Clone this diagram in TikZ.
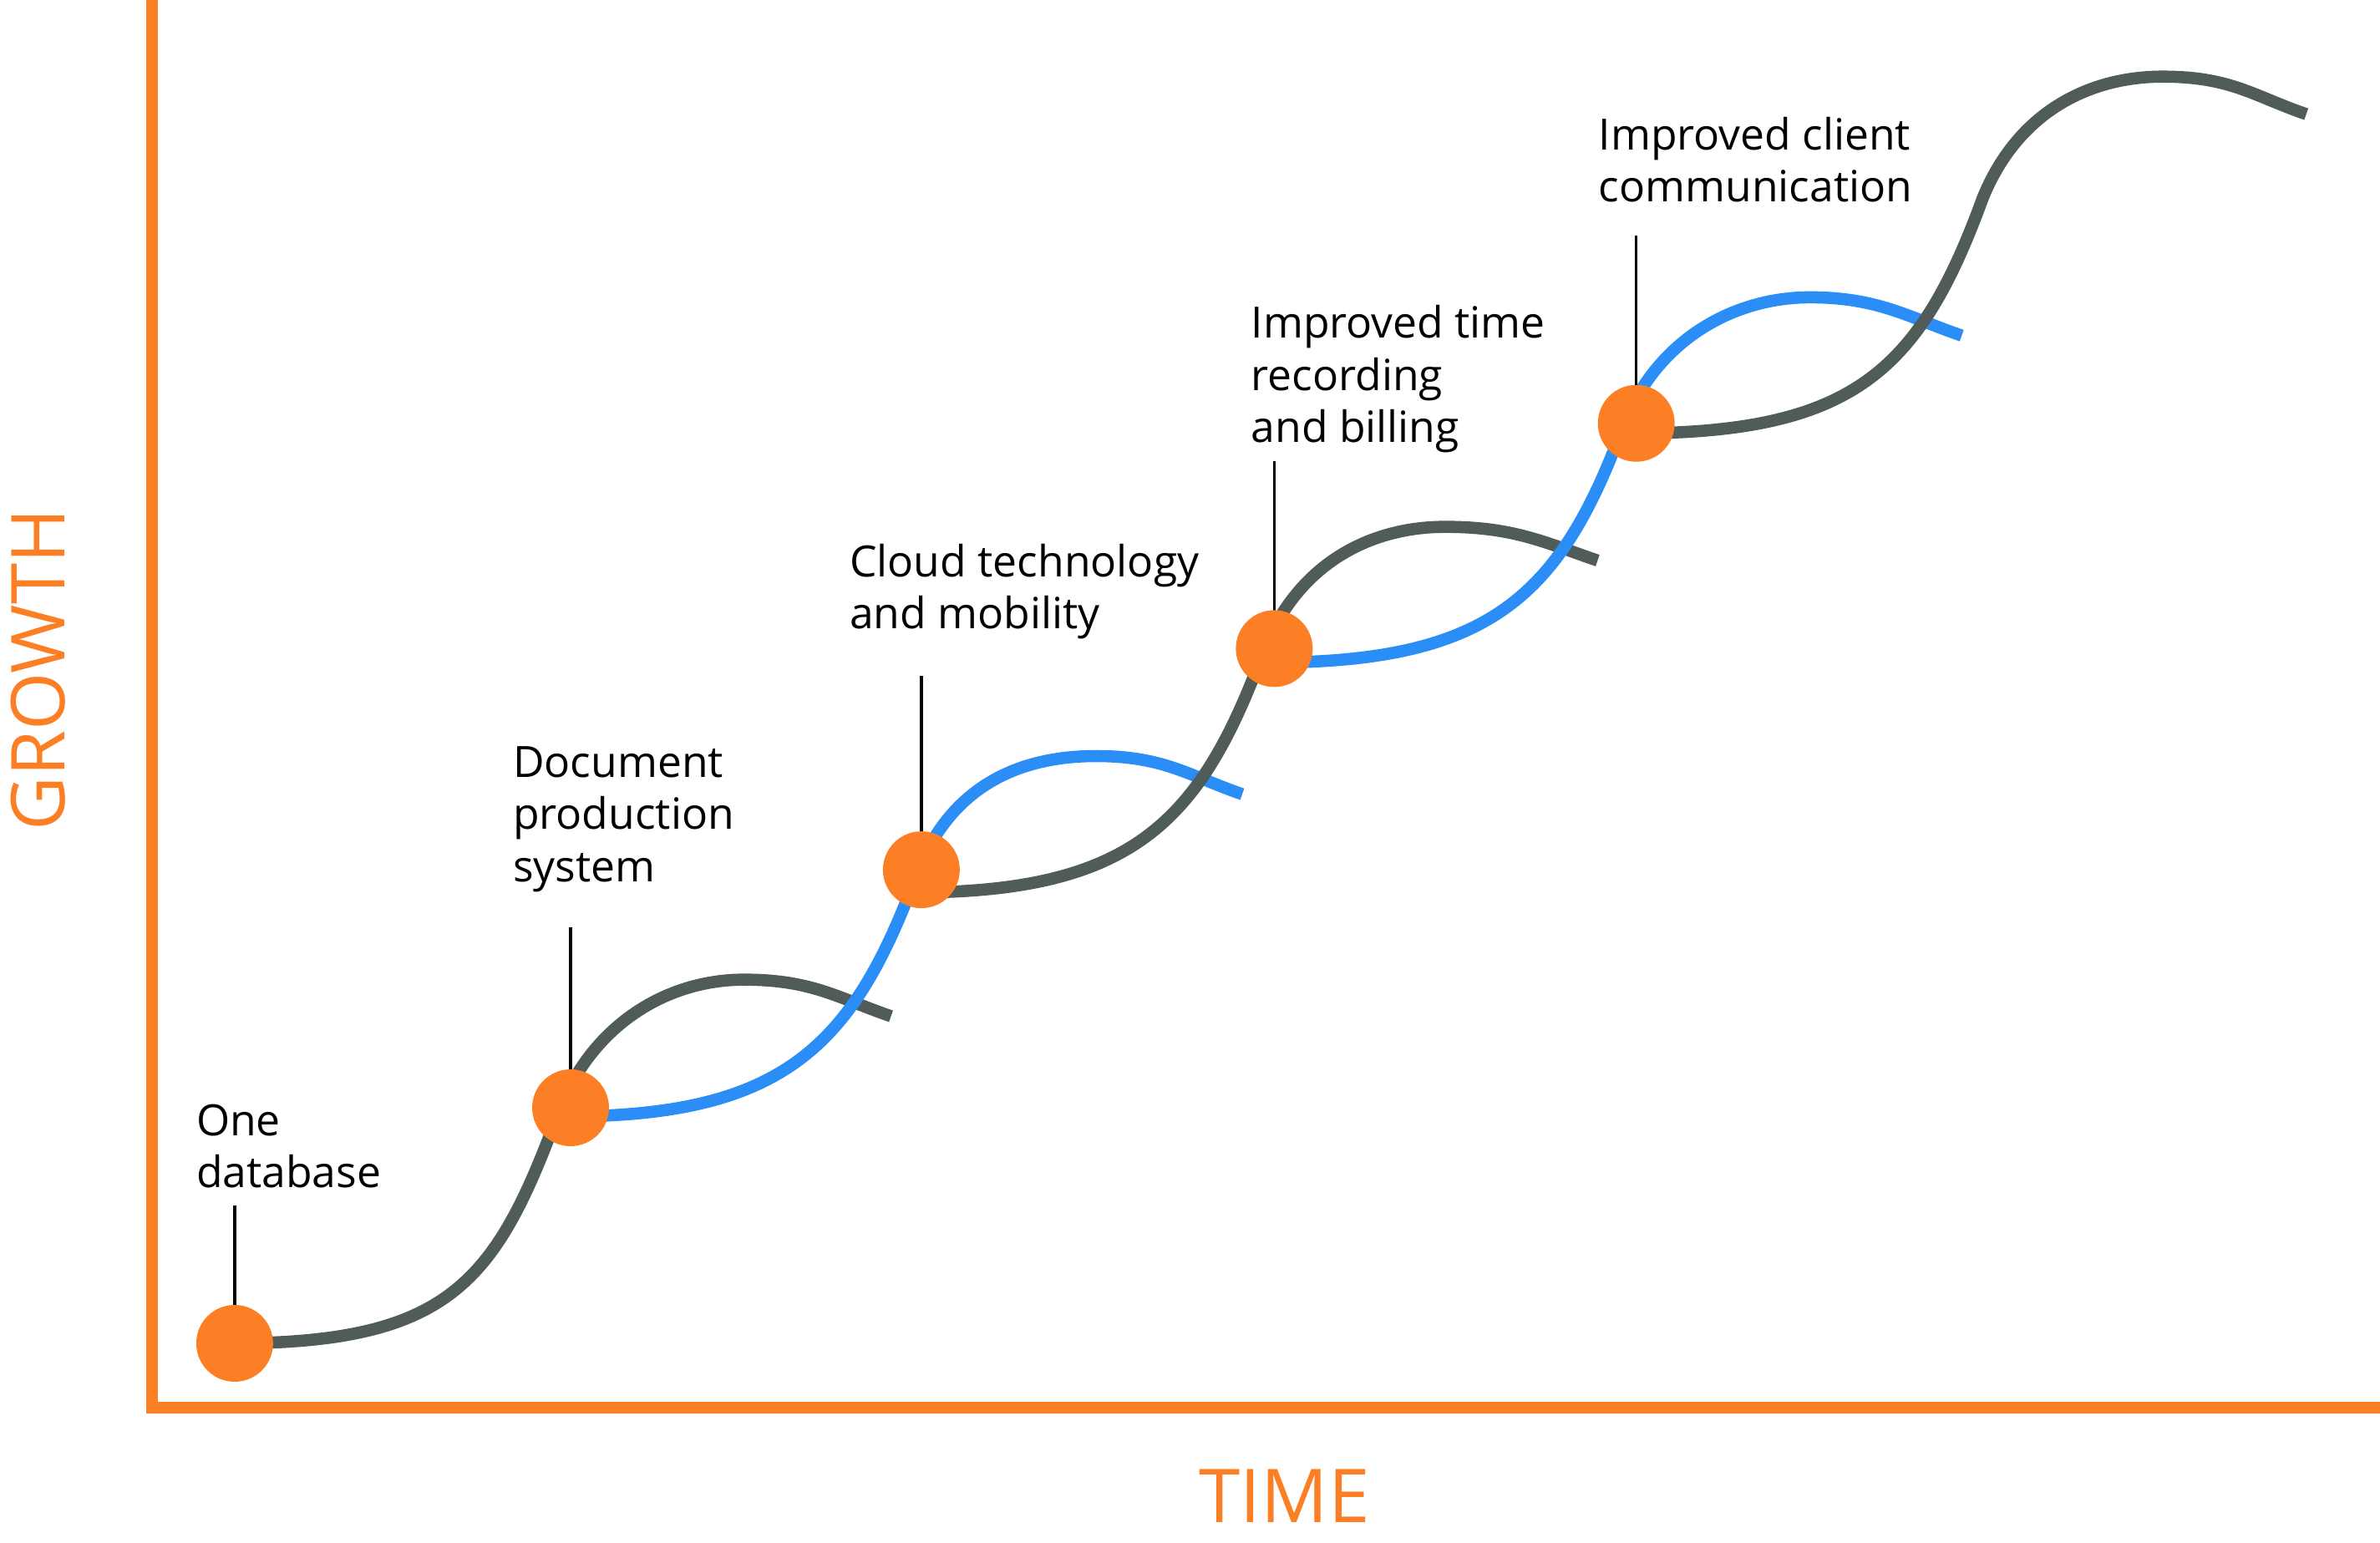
\documentclass[tikz,border=0pt]{standalone}
\usepackage{fontspec}
\setmainfont{Open Sans}
\definecolor{axisorange}{RGB}{252,127,38}
\definecolor{waveblue}{RGB}{43,142,247}
\definecolor{wavegray}{RGB}{79,92,90}

\begin{document}
\begin{tikzpicture}[x=0.5pt,y=0.5pt,
	dot/.style={circle, fill=axisorange, inner sep=0pt, minimum size=25.3pt},
	wave/.style={line width=4pt},
	leader/.style={black, line width=0.9pt},
	stagetext/.style={anchor=base west, align=left, inner sep=0pt, font=\fontsize{14.2}{17.2}\selectfont},
	axislabel/.style={text=axisorange, inner sep=0pt, font=\fontsize{24.5}{29}\selectfont}]

	\useasboundingbox (0,0) rectangle (1568,1016.5);

	% axes
	\draw[axisorange, line width=3.9pt, line join=miter] (100.3,1016.5) -- (100.3,89.2) -- (1568,89.2);
	\node[axislabel, anchor=base] (time) at (846.2,13.4) {TIME};
	\node[axislabel, anchor=base, rotate=90] (growth) at (42.6,575.3) {GROWTH};

	% waves: trough, crossing, top, end
	\foreach \sx/\sy/\qx/\qy/\px/\py/\ex/\ey/\col in {
		152/131.5/369/286.7/490.1/371.1/587/347/wavegray,
		373/281/605/443.5/722.1/518.4/818.4/493.3/waveblue,
		601/428.5/833/589.2/952.1/669.4/1052.5/647.2/wavegray,
		836/580/1070/737.6/1192.5/820.6/1292.4/795.4/waveblue,
		1075/731/1306.2/885.8/1424.8/966/1519.4/941.3/wavegray}
		\draw[wave,\col] (\sx,\sy) .. controls +(145,0) and +(-42,-115) .. (\qx,\qy)
			.. controls +(22.5,55.6) and +(-50,0) .. (\px,\py)
			.. controls +(45,0) and +(-35,12) .. (\ex,\ey);

	% stages
	\foreach \n/\x/\y/\top in {1/154.6/131.5/222.5, 2/375.9/286.7/405.8, 3/607/443.5/571.3,
		4/839.5/589.2/712.6, 5/1078/737.6/861.5} {
		\coordinate (l\n) at (\x,\top);
		\draw[leader] (l\n) -- (\x,\y);
		\node[dot] (c\n) at (\x,\y) {};
	}

	% labels, anchored at the last line
	\node[stagetext] (t1) at (129,233.9) {One\\database};
	\node[stagetext] (t2) at (337.6,435.8) {Document\\production\\system};
	\node[stagetext] (t3) at (559.4,602.1) {Cloud technology\\and mobility};
	\node[stagetext] (t4) at (823.9,724.8) {Improved time\\recording\\and billing};
	\node[stagetext] (t5) at (1052.8,883.5) {Improved client\\communication};

\end{tikzpicture}
\end{document}
